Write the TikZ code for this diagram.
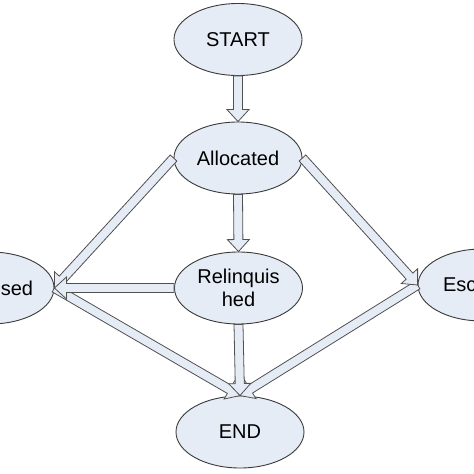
\documentclass[tikz,border=0pt]{standalone}
\usepackage{fontspec}
\setmainfont{Liberation Sans}
\usetikzlibrary{shapes.geometric,calc}
\definecolor{nodefill}{HTML}{E6ECF6}
\definecolor{nodeline}{HTML}{3A3A3A}
\definecolor{arrline}{HTML}{505050}
\tikzset{
  state/.style={ellipse, draw=nodeline, line width=0.9pt, fill=nodefill,
    minimum width=128pt, minimum height=72pt, inner sep=0pt,
    font=\fontsize{20}{23.5}\selectfont, align=center},
  barr/.style={draw=arrline, line width=0.8pt, fill=nodefill, line join=miter},
}
\newcommand\blockarrow[2]{%
  \coordinate (bs) at (#1);
  \coordinate (be) at (#2);
  \coordinate (bh) at ($(be)!12pt!(bs)$);
  \draw[barr] ($(bs)!4.5pt!90:(be)$) -- ($(bh)!4.5pt!-90:(bs)$)
    -- ($(bh)!11pt!-90:(bs)$) -- (be) -- ($(bh)!11pt!90:(bs)$)
    -- ($(bh)!4.5pt!90:(bs)$) -- ($(bs)!4.5pt!-90:(be)$) -- cycle;}
\begin{document}
\begin{tikzpicture}[x=1pt,y=-1pt]
\useasboundingbox (0,0) rectangle (474,474);
\clip (0,0) rectangle (474,474);
\fill[white] (0,0) rectangle (474,474);
\node[state] (start) at (238,39.5) {START};
\node[state] (alloc) at (238,158) {Allocated};
\node[state] (rel) at (238.5,288) {Relinquis\\hed};
\node[state] (end) at (240,432) {END};
\node[state, text width=86pt, align=right] (rls) at (-10,288) {sed};
\node[state, text width=78pt, align=left] (esc) at (482,285) {Esc};
\blockarrow{start.south}{alloc.north}
\blockarrow{alloc.south}{rel.north}
\blockarrow{rls.east}{end.north}
\blockarrow{esc.west}{end.north}
\blockarrow{rel.south}{end.north}
\blockarrow{alloc.west}{rls.east}
\blockarrow{rel.west}{rls.east}
\blockarrow{alloc.east}{esc.west}
\end{tikzpicture}
\end{document}
